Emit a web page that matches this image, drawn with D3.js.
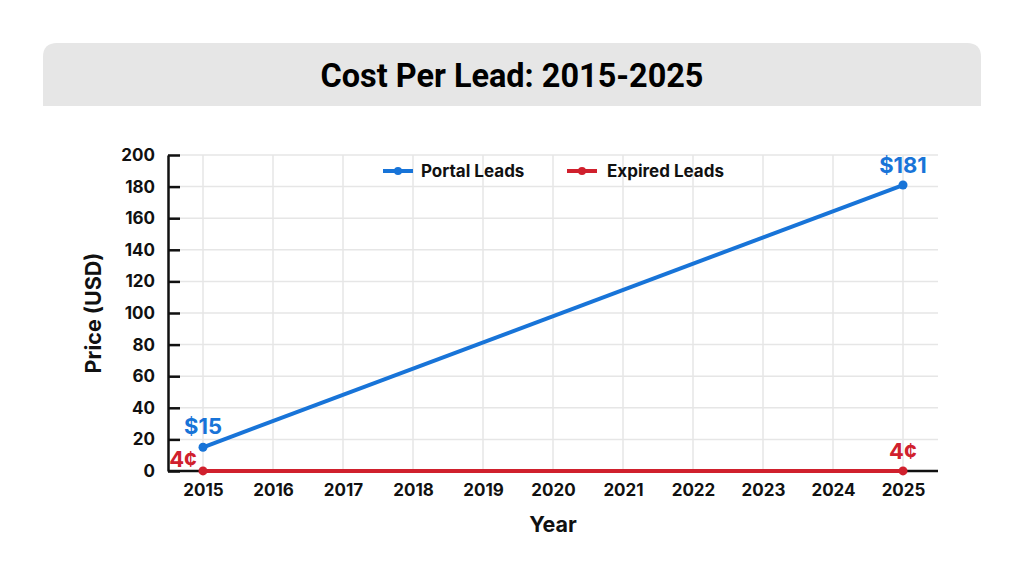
<!DOCTYPE html>
<html><head><meta charset="utf-8">
<script src="https://cdn.jsdelivr.net/npm/d3@7"></script>
<style>body{margin:0;background:#fff}svg{display:block}</style>
</head><body>
<svg id="c" width="1024" height="576"></svg>
<script>
const years = [2015,2016,2017,2018,2019,2020,2021,2022,2023,2024,2025];
const yTicks = [0,20,40,60,80,100,120,140,160,180,200];
const seriesNames = ["Portal Leads","Expired Leads"];
const portalYears = [2015,2025];
const portalValues = [15,181];
const portalLabels = ["$15","$181"];
const expiredYears = [2015,2025];
const expiredValues = [0.04,0.04];
const expiredLabels = ["4¢","4¢"];
const colors = ["#1874d8","#d0202d"];

const svg = d3.select("#c");
const font = "Inter, 'Noto Sans', sans-serif";

// title box
const bx=43, by=43, bw=938, bh=63, r=14;
svg.append("path")
  .attr("d", `M${bx},${by+bh} V${by+r} Q${bx},${by} ${bx+r},${by} H${bx+bw-r} Q${bx+bw},${by} ${bx+bw},${by+r} V${by+bh} Z`)
  .attr("fill","#e6e6e6");
svg.append("text").attr("x",512).attr("y",87).attr("text-anchor","middle")
  .attr("font-family","Roboto, sans-serif").attr("font-weight",700).attr("font-size",34)
  .attr("textLength",383).attr("lengthAdjust","spacingAndGlyphs")
  .attr("fill","#000").text("Cost Per Lead: 2015-2025");

const x = d3.scaleLinear().domain([2015,2025]).range([203,903]);
const y = d3.scaleLinear().domain([0,200]).range([471,155]);
const left=168, right=938;

// grid
const g = svg.append("g");
g.selectAll("line.h").data(yTicks.filter(d=>d>0)).join("line")
  .attr("x1",left).attr("x2",right).attr("y1",d=>y(d)).attr("y2",d=>y(d))
  .attr("stroke","#e6e6e6").attr("stroke-width",1.5);
g.selectAll("line.v").data(years).join("line")
  .attr("x1",d=>x(d)).attr("x2",d=>x(d)).attr("y1",y(200)).attr("y2",y(0))
  .attr("stroke","#e6e6e6").attr("stroke-width",1.5);

// y axis
const yAxis = svg.append("g").attr("transform",`translate(${left},0)`)
  .call(d3.axisRight(y).tickValues(yTicks).tickSize(12).tickSizeOuter(0));
yAxis.select(".domain").attr("stroke","#111").attr("stroke-width",2.5);
yAxis.selectAll(".tick line").attr("stroke","#111").attr("stroke-width",2.5);
yAxis.selectAll(".tick text").attr("x",-13).attr("text-anchor","end")
  .attr("font-family",font).attr("font-weight",700).attr("font-size",17).attr("fill","#111");

// x axis
const xAxis = svg.append("g").attr("transform",`translate(0,${y(0)})`)
  .call(d3.axisBottom(x).tickValues(years).tickFormat(d3.format("d")).tickSize(0).tickSizeOuter(0));
xAxis.select(".domain").attr("d",`M${left},0H${right}`).attr("stroke","#111").attr("stroke-width",2.5);
xAxis.selectAll(".tick text").attr("y",13)
  .attr("font-family",font).attr("font-weight",700).attr("font-size",17).attr("fill","#111");

// axis titles
svg.append("text").attr("x",553).attr("y",532).attr("text-anchor","middle")
  .attr("font-family",font).attr("font-weight",700).attr("font-size",21.5).attr("fill","#111").text("Year");
svg.append("text").attr("transform","translate(101,313) rotate(-90)").attr("text-anchor","middle")
  .attr("font-family",font).attr("font-weight",700).attr("font-size",21.5).attr("fill","#111").text("Price (USD)");

// lines
const line = d3.line().x(d=>x(d[0])).y(d=>y(d[1]));
const sets = [
  {yrs:portalYears, vals:portalValues, labels:portalLabels, c:colors[0]},
  {yrs:expiredYears, vals:expiredValues, labels:expiredLabels, c:colors[1]}
];
sets.forEach(s=>{
  const pts = s.yrs.map((yr,i)=>[yr,s.vals[i]]);
  svg.append("path").attr("d",line(pts)).attr("fill","none").attr("stroke",s.c).attr("stroke-width",4);
  svg.selectAll(null).data(pts).join("circle").attr("cx",d=>x(d[0])).attr("cy",d=>y(d[1])).attr("r",4.5).attr("fill",s.c);
});

// data labels
const lbl = (t,xx,yy,c,anchor)=>svg.append("text").attr("x",xx).attr("y",yy).attr("text-anchor",anchor||"middle")
  .attr("font-family",font).attr("font-weight",700).attr("font-size",22).attr("fill",c).text(t);
lbl(portalLabels[0], x(portalYears[0]), y(portalValues[0])-13, colors[0]);
lbl(portalLabels[1], x(portalYears[1]), y(portalValues[1])-12, colors[0]);
lbl(expiredLabels[0], x(expiredYears[0])-6, y(expiredValues[0])-4, colors[1], "end");
lbl(expiredLabels[1], x(expiredYears[1]), y(expiredValues[1])-12, colors[1]);

// legend
const leg = [{x:383, tx:421},{x:567, tx:607}];
seriesNames.forEach((n,i)=>{
  const L = svg.append("g");
  L.append("line").attr("x1",leg[i].x).attr("x2",leg[i].x+30).attr("y1",171).attr("y2",171).attr("stroke",colors[i]).attr("stroke-width",4);
  L.append("circle").attr("cx",leg[i].x+15).attr("cy",171).attr("r",4).attr("fill",colors[i]);
  L.append("text").attr("x",leg[i].tx).attr("y",177).attr("font-family",font).attr("font-weight",700)
    .attr("font-size",17).attr("fill","#111").text(n);
});
</script>
</body></html>
